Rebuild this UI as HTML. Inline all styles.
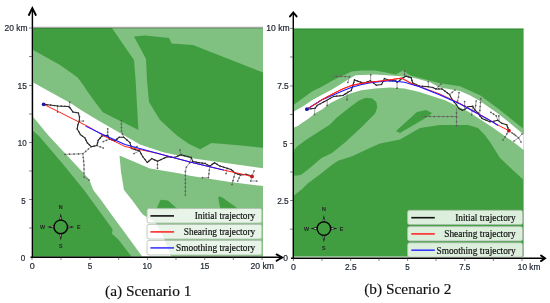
<!DOCTYPE html>
<html><head><meta charset="utf-8"><style>
html,body{margin:0;padding:0;background:#fff;}
svg{display:block;}
</style></head><body>
<svg width="550" height="303" viewBox="0 0 550 303">
<rect width="550" height="303" fill="#fff"/>
<rect x="33.2" y="27.9" width="229.8" height="228.7" fill="#80C080"/>
<polygon points="33.2,27.9 112,27.9 121.5,42 134,60 135.6,80 138.4,130 129.6,125.6 114.7,118.2 102.8,112.3 93.9,100.4 86.5,90 83.8,85.7 77.8,77.8 70,71.9 60,65 33.2,50" fill="#409E40"/>
<polygon points="134,36.6 145,35.4 169,38 171.6,43.4 193,45 263,72.6 263,147.8 235.6,145 211.5,143.1 200.2,149.2 189,144 176.9,135.4 170,129.3 160,120 149,102 147,80 146,59" fill="#409E40"/>
<polygon points="33.2,131 39,136 62,163 84,190 112.6,229.3 112,233.8 118.6,239.7 131.5,256.6 33.2,256.6" fill="#409E40"/>
<polygon points="156,210 160.3,200.2 162,199.8 168,200.6 178.5,210" fill="#409E40"/>
<polygon points="218.2,197.2 219.5,196.6 222,197.3 240,210 220.5,210" fill="#409E40"/>
<polygon points="33.2,82.4 72,103.9 80,109.5 90,115.6 100,121.5 120,133 140,144.5 163.2,152.3 190,158 263,168.2 263,186 230,182 190,175.7 180,173.5 150,168.5 119.5,155.4 121,172 124,190 132,200 138.3,208.6 140.7,212 143.5,215 150,219 155.9,222.7 164.2,238.4 171,256.6 142.3,256.6 124.5,232.3 111.8,215 101,200 93.3,190 89,179 48,135 33.2,117" fill="#fff"/>
<line x1="33.2" y1="27.3" x2="263.0" y2="27.3" stroke="#8a8a8a" stroke-width="0.9"/>
<line x1="33.2" y1="28.3" x2="263.0" y2="28.3" stroke="#000" stroke-opacity="0.18" stroke-width="0.9"/>
<rect x="293.8" y="28.4" width="229.8" height="228.2" fill="#409E40"/>
<line x1="293.8" y1="29.4" x2="523.6" y2="29.4" stroke="#000" stroke-opacity="0.1" stroke-width="1"/>
<polygon points="293.8,104.7 303.2,98 312,91.5 322,86.4 333,80.3 346.4,73.9 351.7,71.4 361,70.6 375,70.6 382.3,71.8 395.6,74.6 403,70.6 410.5,75.4 440,83.2 460,86.2 480,95.3 498,108.5 523.6,129 523.6,180 500,158 490,142 484,134 478,128 468,125 440,125 420,128 400,139.4 380,143.5 372,147 352.1,156.2 338.2,160.8 332,164.8 321.2,173.4 308,183.3 301,190 293.8,195.5" fill="#80C080"/>
<polygon points="293.8,150.5 297,146.5 306.5,139.6 323,129 330,124.4 336.6,117.8 349.8,107.2 359,100.6 365.7,97.7 372.3,98.6 376.3,101.9 377.3,107.2 375,113.8 369.6,119 361.7,127 352,136 345.2,142.3 332,152.9 321.2,158.2 308,169.4 301.2,174.7 297,175.5 293.8,175.5" fill="#409E40"/>
<polygon points="396,131 417,112 426,110 432,113 429,116 400,133" fill="#409E40"/>
<polygon points="293.8,111.5 303.2,106.2 312,100.3 322,94.8 332,89.4 341,84 350,78.3 355.6,75.2 375,74.6 389.7,75.6 410.5,77 430,82.3 440,87.5 460,91 469.8,95.3 480,101 500,115 523.6,134.5 523.6,150 514.4,142.8 491.2,126.5 468.1,111.4 445,100.3 419.4,92 404.5,88.4 389.7,87.6 375,88.4 361.2,90.2 350,93.4 340,98.3 330,103.3 322,109.5 316,112.8 308,119 301.9,122.9 297.8,126 293.8,127.5" fill="#fff"/>
<polyline points="57.6,105.9 57.6,111.9" fill="none" stroke="#6a6a6a" stroke-width="0.65" stroke-linejoin="round" stroke-linecap="round" />
<circle cx="57.6" cy="111.9" r="0.85" fill="#5a5a5a"/>
<polyline points="69.5,106.5 69.9,102" fill="none" stroke="#6a6a6a" stroke-width="0.65" stroke-linejoin="round" stroke-linecap="round" />
<circle cx="69.9" cy="102.0" r="0.85" fill="#5a5a5a"/>
<polyline points="79.2,121.2 83.3,121" fill="none" stroke="#6a6a6a" stroke-width="0.65" stroke-linejoin="round" stroke-linecap="round" />
<circle cx="83.3" cy="121.0" r="0.85" fill="#5a5a5a"/>
<polyline points="91.2,146.7 82.9,153.7 65.1,154.4" fill="none" stroke="#6a6a6a" stroke-width="0.65" stroke-linejoin="round" stroke-linecap="round" />
<circle cx="88.4" cy="149.0" r="0.85" fill="#5a5a5a"/>
<circle cx="85.7" cy="151.4" r="0.85" fill="#5a5a5a"/>
<circle cx="82.9" cy="153.7" r="0.85" fill="#5a5a5a"/>
<circle cx="78.5" cy="153.9" r="0.85" fill="#5a5a5a"/>
<circle cx="74.0" cy="154.1" r="0.85" fill="#5a5a5a"/>
<circle cx="69.5" cy="154.2" r="0.85" fill="#5a5a5a"/>
<circle cx="65.1" cy="154.4" r="0.85" fill="#5a5a5a"/>
<polyline points="82.9,153.7 84,165 84,177 89,180" fill="none" stroke="#6a6a6a" stroke-width="0.65" stroke-linejoin="round" stroke-linecap="round" />
<circle cx="83.3" cy="157.5" r="0.85" fill="#5a5a5a"/>
<circle cx="83.6" cy="161.2" r="0.85" fill="#5a5a5a"/>
<circle cx="84.0" cy="165.0" r="0.85" fill="#5a5a5a"/>
<circle cx="84.0" cy="169.0" r="0.85" fill="#5a5a5a"/>
<circle cx="84.0" cy="173.0" r="0.85" fill="#5a5a5a"/>
<circle cx="84.0" cy="177.0" r="0.85" fill="#5a5a5a"/>
<circle cx="89.0" cy="180.0" r="0.85" fill="#5a5a5a"/>
<polyline points="96.9,145.5 103.3,148" fill="none" stroke="#6a6a6a" stroke-width="0.65" stroke-linejoin="round" stroke-linecap="round" />
<circle cx="100.1" cy="146.8" r="0.85" fill="#5a5a5a"/>
<circle cx="103.3" cy="148.0" r="0.85" fill="#5a5a5a"/>
<polyline points="107.7,135.3 107.7,128.9" fill="none" stroke="#6a6a6a" stroke-width="0.65" stroke-linejoin="round" stroke-linecap="round" />
<circle cx="107.7" cy="132.1" r="0.85" fill="#5a5a5a"/>
<circle cx="107.7" cy="128.9" r="0.85" fill="#5a5a5a"/>
<polyline points="109.6,139.1 103.3,141.6" fill="none" stroke="#6a6a6a" stroke-width="0.65" stroke-linejoin="round" stroke-linecap="round" />
<circle cx="106.4" cy="140.3" r="0.85" fill="#5a5a5a"/>
<circle cx="103.3" cy="141.6" r="0.85" fill="#5a5a5a"/>
<polyline points="139.6,151 134,153.5" fill="none" stroke="#6a6a6a" stroke-width="0.65" stroke-linejoin="round" stroke-linecap="round" />
<circle cx="134.0" cy="153.5" r="0.85" fill="#5a5a5a"/>
<polyline points="123.6,137.2 121.5,131 121.4,120.5" fill="none" stroke="#6a6a6a" stroke-width="0.65" stroke-linejoin="round" stroke-linecap="round" />
<circle cx="122.5" cy="134.1" r="0.85" fill="#5a5a5a"/>
<circle cx="121.5" cy="131.0" r="0.85" fill="#5a5a5a"/>
<circle cx="121.5" cy="127.5" r="0.85" fill="#5a5a5a"/>
<circle cx="121.4" cy="124.0" r="0.85" fill="#5a5a5a"/>
<circle cx="121.4" cy="120.5" r="0.85" fill="#5a5a5a"/>
<polyline points="131.4,148.5 137,146.5" fill="none" stroke="#6a6a6a" stroke-width="0.65" stroke-linejoin="round" stroke-linecap="round" />
<circle cx="137.0" cy="146.5" r="0.85" fill="#5a5a5a"/>
<polyline points="157.5,161.2 157.5,168.2" fill="none" stroke="#6a6a6a" stroke-width="0.65" stroke-linejoin="round" stroke-linecap="round" />
<circle cx="157.5" cy="164.7" r="0.85" fill="#5a5a5a"/>
<circle cx="157.5" cy="168.2" r="0.85" fill="#5a5a5a"/>
<polyline points="181,154.8 180,150" fill="none" stroke="#6a6a6a" stroke-width="0.65" stroke-linejoin="round" stroke-linecap="round" />
<circle cx="180.0" cy="150.0" r="0.85" fill="#5a5a5a"/>
<polyline points="191.2,157.4 189.6,162.9 186.4,167.1 185.4,171.4 185.4,195" fill="none" stroke="#6a6a6a" stroke-width="0.65" stroke-linejoin="round" stroke-linecap="round" />
<circle cx="189.6" cy="162.9" r="0.85" fill="#5a5a5a"/>
<circle cx="186.4" cy="167.1" r="0.85" fill="#5a5a5a"/>
<circle cx="185.4" cy="171.4" r="0.85" fill="#5a5a5a"/>
<circle cx="185.4" cy="175.3" r="0.85" fill="#5a5a5a"/>
<circle cx="185.4" cy="179.3" r="0.85" fill="#5a5a5a"/>
<circle cx="185.4" cy="183.2" r="0.85" fill="#5a5a5a"/>
<circle cx="185.4" cy="187.1" r="0.85" fill="#5a5a5a"/>
<circle cx="185.4" cy="191.1" r="0.85" fill="#5a5a5a"/>
<circle cx="185.4" cy="195.0" r="0.85" fill="#5a5a5a"/>
<polyline points="209.8,166.1 208.4,177.7 202.3,177.7" fill="none" stroke="#6a6a6a" stroke-width="0.65" stroke-linejoin="round" stroke-linecap="round" />
<circle cx="209.3" cy="170.0" r="0.85" fill="#5a5a5a"/>
<circle cx="208.9" cy="173.8" r="0.85" fill="#5a5a5a"/>
<circle cx="208.4" cy="177.7" r="0.85" fill="#5a5a5a"/>
<circle cx="202.3" cy="177.7" r="0.85" fill="#5a5a5a"/>
<polyline points="226.8,169.5 226,173.6" fill="none" stroke="#6a6a6a" stroke-width="0.65" stroke-linejoin="round" stroke-linecap="round" />
<circle cx="226.0" cy="173.6" r="0.85" fill="#5a5a5a"/>
<polyline points="235,173 232,184.5" fill="none" stroke="#6a6a6a" stroke-width="0.65" stroke-linejoin="round" stroke-linecap="round" />
<circle cx="234.0" cy="176.8" r="0.85" fill="#5a5a5a"/>
<circle cx="233.0" cy="180.7" r="0.85" fill="#5a5a5a"/>
<circle cx="232.0" cy="184.5" r="0.85" fill="#5a5a5a"/>
<polyline points="240.5,175 237.7,181" fill="none" stroke="#6a6a6a" stroke-width="0.65" stroke-linejoin="round" stroke-linecap="round" />
<circle cx="239.1" cy="178.0" r="0.85" fill="#5a5a5a"/>
<circle cx="237.7" cy="181.0" r="0.85" fill="#5a5a5a"/>
<polyline points="252,176.4 254,171" fill="none" stroke="#6a6a6a" stroke-width="0.65" stroke-linejoin="round" stroke-linecap="round" />
<circle cx="254.0" cy="171.0" r="0.85" fill="#5a5a5a"/>
<polyline points="252,176.4 250.7,181 256.8,181" fill="none" stroke="#6a6a6a" stroke-width="0.65" stroke-linejoin="round" stroke-linecap="round" />
<circle cx="250.7" cy="181.0" r="0.85" fill="#5a5a5a"/>
<circle cx="256.8" cy="181.0" r="0.85" fill="#5a5a5a"/>
<polyline points="43.7,104.3 57.6,105.9 68.5,106.5 70.2,108.1 72.9,111.9 78.4,113 79.5,116.8 79.2,121.2 77.8,125 77.2,128.9 80.4,134.6 84.8,137.8 87.4,142.9 91.2,146.7 96.9,145.5 98.2,140.4 102,135.9 107.7,135.3 109.6,139.1 114.7,141 119.2,137.2 123.6,137.2 130,142.7 131.4,148.5 139.6,151 142.8,156.7 147.3,162.5 151.7,158.6 157.5,161.2 164.5,158 167,156.7 174.6,157.4 181,154.8 191.2,157.4 192.7,161.4 199.5,162.7 205,163.4 209.8,166.1 214.5,162.7 220,166.1 231,169.5 235,173 240.5,175 246,174.3 252,176.4" fill="none" stroke="#1e1e1e" stroke-width="1.05" stroke-linejoin="round" stroke-linecap="round" />
<circle cx="47.2" cy="104.7" r="0.8" fill="#333"/>
<circle cx="50.7" cy="105.1" r="0.8" fill="#333"/>
<circle cx="54.1" cy="105.5" r="0.8" fill="#333"/>
<circle cx="57.6" cy="105.9" r="0.8" fill="#333"/>
<circle cx="61.2" cy="106.1" r="0.8" fill="#333"/>
<circle cx="64.9" cy="106.3" r="0.8" fill="#333"/>
<circle cx="68.5" cy="106.5" r="0.8" fill="#333"/>
<circle cx="70.2" cy="108.1" r="0.8" fill="#333"/>
<circle cx="72.9" cy="111.9" r="0.8" fill="#333"/>
<circle cx="75.7" cy="112.5" r="0.8" fill="#333"/>
<circle cx="78.4" cy="113.0" r="0.8" fill="#333"/>
<circle cx="79.5" cy="116.8" r="0.8" fill="#333"/>
<circle cx="79.2" cy="121.2" r="0.8" fill="#333"/>
<circle cx="77.8" cy="125.0" r="0.8" fill="#333"/>
<circle cx="77.2" cy="128.9" r="0.8" fill="#333"/>
<circle cx="78.8" cy="131.8" r="0.8" fill="#333"/>
<circle cx="80.4" cy="134.6" r="0.8" fill="#333"/>
<circle cx="82.6" cy="136.2" r="0.8" fill="#333"/>
<circle cx="84.8" cy="137.8" r="0.8" fill="#333"/>
<circle cx="86.1" cy="140.4" r="0.8" fill="#333"/>
<circle cx="87.4" cy="142.9" r="0.8" fill="#333"/>
<circle cx="89.3" cy="144.8" r="0.8" fill="#333"/>
<circle cx="91.2" cy="146.7" r="0.8" fill="#333"/>
<circle cx="94.1" cy="146.1" r="0.8" fill="#333"/>
<circle cx="96.9" cy="145.5" r="0.8" fill="#333"/>
<circle cx="97.6" cy="142.9" r="0.8" fill="#333"/>
<circle cx="98.2" cy="140.4" r="0.8" fill="#333"/>
<circle cx="100.1" cy="138.2" r="0.8" fill="#333"/>
<circle cx="102.0" cy="135.9" r="0.8" fill="#333"/>
<circle cx="104.8" cy="135.6" r="0.8" fill="#333"/>
<circle cx="107.7" cy="135.3" r="0.8" fill="#333"/>
<circle cx="109.6" cy="139.1" r="0.8" fill="#333"/>
<circle cx="112.2" cy="140.1" r="0.8" fill="#333"/>
<circle cx="114.7" cy="141.0" r="0.8" fill="#333"/>
<circle cx="117.0" cy="139.1" r="0.8" fill="#333"/>
<circle cx="119.2" cy="137.2" r="0.8" fill="#333"/>
<circle cx="123.6" cy="137.2" r="0.8" fill="#333"/>
<circle cx="126.8" cy="139.9" r="0.8" fill="#333"/>
<circle cx="130.0" cy="142.7" r="0.8" fill="#333"/>
<circle cx="130.7" cy="145.6" r="0.8" fill="#333"/>
<circle cx="131.4" cy="148.5" r="0.8" fill="#333"/>
<circle cx="135.5" cy="149.8" r="0.8" fill="#333"/>
<circle cx="139.6" cy="151.0" r="0.8" fill="#333"/>
<circle cx="141.2" cy="153.8" r="0.8" fill="#333"/>
<circle cx="142.8" cy="156.7" r="0.8" fill="#333"/>
<circle cx="145.1" cy="159.6" r="0.8" fill="#333"/>
<circle cx="147.3" cy="162.5" r="0.8" fill="#333"/>
<circle cx="149.5" cy="160.6" r="0.8" fill="#333"/>
<circle cx="151.7" cy="158.6" r="0.8" fill="#333"/>
<circle cx="154.6" cy="159.9" r="0.8" fill="#333"/>
<circle cx="157.5" cy="161.2" r="0.8" fill="#333"/>
<circle cx="161.0" cy="159.6" r="0.8" fill="#333"/>
<circle cx="164.5" cy="158.0" r="0.8" fill="#333"/>
<circle cx="167.0" cy="156.7" r="0.8" fill="#333"/>
<circle cx="170.8" cy="157.1" r="0.8" fill="#333"/>
<circle cx="174.6" cy="157.4" r="0.8" fill="#333"/>
<circle cx="177.8" cy="156.1" r="0.8" fill="#333"/>
<circle cx="181.0" cy="154.8" r="0.8" fill="#333"/>
<circle cx="184.4" cy="155.7" r="0.8" fill="#333"/>
<circle cx="187.8" cy="156.5" r="0.8" fill="#333"/>
<circle cx="191.2" cy="157.4" r="0.8" fill="#333"/>
<circle cx="192.7" cy="161.4" r="0.8" fill="#333"/>
<circle cx="196.1" cy="162.1" r="0.8" fill="#333"/>
<circle cx="199.5" cy="162.7" r="0.8" fill="#333"/>
<circle cx="202.2" cy="163.1" r="0.8" fill="#333"/>
<circle cx="205.0" cy="163.4" r="0.8" fill="#333"/>
<circle cx="207.4" cy="164.8" r="0.8" fill="#333"/>
<circle cx="209.8" cy="166.1" r="0.8" fill="#333"/>
<circle cx="212.2" cy="164.4" r="0.8" fill="#333"/>
<circle cx="214.5" cy="162.7" r="0.8" fill="#333"/>
<circle cx="217.2" cy="164.4" r="0.8" fill="#333"/>
<circle cx="220.0" cy="166.1" r="0.8" fill="#333"/>
<circle cx="223.7" cy="167.2" r="0.8" fill="#333"/>
<circle cx="227.3" cy="168.4" r="0.8" fill="#333"/>
<circle cx="231.0" cy="169.5" r="0.8" fill="#333"/>
<circle cx="233.0" cy="171.2" r="0.8" fill="#333"/>
<circle cx="235.0" cy="173.0" r="0.8" fill="#333"/>
<circle cx="237.8" cy="174.0" r="0.8" fill="#333"/>
<circle cx="240.5" cy="175.0" r="0.8" fill="#333"/>
<circle cx="243.2" cy="174.7" r="0.8" fill="#333"/>
<circle cx="246.0" cy="174.3" r="0.8" fill="#333"/>
<circle cx="249.0" cy="175.4" r="0.8" fill="#333"/>
<circle cx="252.0" cy="176.4" r="0.8" fill="#333"/>
<polyline points="43.7,104.3 89.3,127.2 105,136.5 125,146.5 150.5,151.8 160,154 190,162 223.4,170 252,176.4" fill="none" stroke="#ff2020" stroke-width="1.0" stroke-linejoin="round" stroke-linecap="round" />
<polyline points="86.1,126.4 105,135.5 125,144.6 160,154 190,162 223.4,170" fill="none" stroke="#1515ff" stroke-width="1.05" stroke-linejoin="round" stroke-linecap="round" />
<circle cx="43.7" cy="104.3" r="1.9" fill="#1a1aa0"/>
<circle cx="252" cy="176.4" r="1.9" fill="#c01818"/>
<polyline points="332.2,76.2 349.5,76.6 347.9,82.3" fill="none" stroke="#6a6a6a" stroke-width="0.65" stroke-linejoin="round" stroke-linecap="round" />
<circle cx="336.5" cy="76.3" r="0.85" fill="#5a5a5a"/>
<circle cx="340.9" cy="76.4" r="0.85" fill="#5a5a5a"/>
<circle cx="345.2" cy="76.5" r="0.85" fill="#5a5a5a"/>
<circle cx="349.5" cy="76.6" r="0.85" fill="#5a5a5a"/>
<circle cx="347.9" cy="82.3" r="0.85" fill="#5a5a5a"/>
<polyline points="314.9,108.3 314.5,114.5" fill="none" stroke="#6a6a6a" stroke-width="0.65" stroke-linejoin="round" stroke-linecap="round" />
<circle cx="314.5" cy="114.5" r="0.85" fill="#5a5a5a"/>
<polyline points="327.2,100.5 327.2,105.4" fill="none" stroke="#6a6a6a" stroke-width="0.65" stroke-linejoin="round" stroke-linecap="round" />
<circle cx="327.2" cy="105.4" r="0.85" fill="#5a5a5a"/>
<polyline points="347,93.5 347,99.7" fill="none" stroke="#6a6a6a" stroke-width="0.65" stroke-linejoin="round" stroke-linecap="round" />
<circle cx="347.0" cy="99.7" r="0.85" fill="#5a5a5a"/>
<polyline points="370.7,80.8 370.7,74.8" fill="none" stroke="#6a6a6a" stroke-width="0.65" stroke-linejoin="round" stroke-linecap="round" />
<circle cx="370.7" cy="74.8" r="0.85" fill="#5a5a5a"/>
<polyline points="397.1,82.3 397.1,88.2" fill="none" stroke="#6a6a6a" stroke-width="0.65" stroke-linejoin="round" stroke-linecap="round" />
<circle cx="397.1" cy="88.2" r="0.85" fill="#5a5a5a"/>
<polyline points="404.5,77.5 404.5,71.1" fill="none" stroke="#6a6a6a" stroke-width="0.65" stroke-linejoin="round" stroke-linecap="round" />
<circle cx="404.5" cy="74.3" r="0.85" fill="#5a5a5a"/>
<circle cx="404.5" cy="71.1" r="0.85" fill="#5a5a5a"/>
<polyline points="428.3,86.7 428.3,81.5" fill="none" stroke="#6a6a6a" stroke-width="0.65" stroke-linejoin="round" stroke-linecap="round" />
<circle cx="428.3" cy="81.5" r="0.85" fill="#5a5a5a"/>
<polyline points="436,88.9 441,84" fill="none" stroke="#6a6a6a" stroke-width="0.65" stroke-linejoin="round" stroke-linecap="round" />
<circle cx="438.5" cy="86.5" r="0.85" fill="#5a5a5a"/>
<circle cx="441.0" cy="84.0" r="0.85" fill="#5a5a5a"/>
<polyline points="449.6,94.6 455,90" fill="none" stroke="#6a6a6a" stroke-width="0.65" stroke-linejoin="round" stroke-linecap="round" />
<circle cx="452.3" cy="92.3" r="0.85" fill="#5a5a5a"/>
<circle cx="455.0" cy="90.0" r="0.85" fill="#5a5a5a"/>
<polyline points="456.5,105 458.5,97 459,92.5" fill="none" stroke="#6a6a6a" stroke-width="0.65" stroke-linejoin="round" stroke-linecap="round" />
<circle cx="457.5" cy="101.0" r="0.85" fill="#5a5a5a"/>
<circle cx="458.5" cy="97.0" r="0.85" fill="#5a5a5a"/>
<circle cx="459.0" cy="92.5" r="0.85" fill="#5a5a5a"/>
<polyline points="464.6,109.6 464.6,101.5" fill="none" stroke="#6a6a6a" stroke-width="0.65" stroke-linejoin="round" stroke-linecap="round" />
<circle cx="464.6" cy="105.5" r="0.85" fill="#5a5a5a"/>
<circle cx="464.6" cy="101.5" r="0.85" fill="#5a5a5a"/>
<polyline points="472.7,106.2 471.6,114.8" fill="none" stroke="#6a6a6a" stroke-width="0.65" stroke-linejoin="round" stroke-linecap="round" />
<circle cx="472.1" cy="110.5" r="0.85" fill="#5a5a5a"/>
<circle cx="471.6" cy="114.8" r="0.85" fill="#5a5a5a"/>
<polyline points="475,110.2 476.2,101" fill="none" stroke="#6a6a6a" stroke-width="0.65" stroke-linejoin="round" stroke-linecap="round" />
<circle cx="475.6" cy="105.6" r="0.85" fill="#5a5a5a"/>
<circle cx="476.2" cy="101.0" r="0.85" fill="#5a5a5a"/>
<polyline points="479.6,114.2 480.8,98.7" fill="none" stroke="#6a6a6a" stroke-width="0.65" stroke-linejoin="round" stroke-linecap="round" />
<circle cx="479.9" cy="110.3" r="0.85" fill="#5a5a5a"/>
<circle cx="480.2" cy="106.5" r="0.85" fill="#5a5a5a"/>
<circle cx="480.5" cy="102.6" r="0.85" fill="#5a5a5a"/>
<circle cx="480.8" cy="98.7" r="0.85" fill="#5a5a5a"/>
<polyline points="421,116.5 456.5,116.5" fill="none" stroke="#6a6a6a" stroke-width="0.65" stroke-linejoin="round" stroke-linecap="round" />
<circle cx="425.4" cy="116.5" r="0.85" fill="#5a5a5a"/>
<circle cx="429.9" cy="116.5" r="0.85" fill="#5a5a5a"/>
<circle cx="434.3" cy="116.5" r="0.85" fill="#5a5a5a"/>
<circle cx="438.8" cy="116.5" r="0.85" fill="#5a5a5a"/>
<circle cx="443.2" cy="116.5" r="0.85" fill="#5a5a5a"/>
<circle cx="447.6" cy="116.5" r="0.85" fill="#5a5a5a"/>
<circle cx="452.1" cy="116.5" r="0.85" fill="#5a5a5a"/>
<circle cx="456.5" cy="116.5" r="0.85" fill="#5a5a5a"/>
<polyline points="456.5,108.5 456.5,126" fill="none" stroke="#6a6a6a" stroke-width="0.65" stroke-linejoin="round" stroke-linecap="round" />
<circle cx="456.5" cy="112.9" r="0.85" fill="#5a5a5a"/>
<circle cx="456.5" cy="117.2" r="0.85" fill="#5a5a5a"/>
<circle cx="456.5" cy="121.6" r="0.85" fill="#5a5a5a"/>
<circle cx="456.5" cy="126.0" r="0.85" fill="#5a5a5a"/>
<polyline points="497.8,120.3 496.3,115.9 490.9,112.4" fill="none" stroke="#6a6a6a" stroke-width="0.65" stroke-linejoin="round" stroke-linecap="round" />
<circle cx="496.3" cy="115.9" r="0.85" fill="#5a5a5a"/>
<circle cx="493.6" cy="114.2" r="0.85" fill="#5a5a5a"/>
<circle cx="490.9" cy="112.4" r="0.85" fill="#5a5a5a"/>
<polyline points="499.3,121.5 498.8,115.9" fill="none" stroke="#6a6a6a" stroke-width="0.65" stroke-linejoin="round" stroke-linecap="round" />
<circle cx="498.8" cy="115.9" r="0.85" fill="#5a5a5a"/>
<polyline points="508.9,130.7 503,140" fill="none" stroke="#6a6a6a" stroke-width="0.65" stroke-linejoin="round" stroke-linecap="round" />
<circle cx="506.9" cy="133.8" r="0.85" fill="#5a5a5a"/>
<circle cx="505.0" cy="136.9" r="0.85" fill="#5a5a5a"/>
<circle cx="503.0" cy="140.0" r="0.85" fill="#5a5a5a"/>
<polyline points="518.6,137.8 514,134" fill="none" stroke="#6a6a6a" stroke-width="0.65" stroke-linejoin="round" stroke-linecap="round" />
<circle cx="514.0" cy="134.0" r="0.85" fill="#5a5a5a"/>
<polyline points="518.6,137.8 522,134" fill="none" stroke="#6a6a6a" stroke-width="0.65" stroke-linejoin="round" stroke-linecap="round" />
<circle cx="522.0" cy="134.0" r="0.85" fill="#5a5a5a"/>
<polyline points="518.6,137.8 514,141" fill="none" stroke="#6a6a6a" stroke-width="0.65" stroke-linejoin="round" stroke-linecap="round" />
<circle cx="514.0" cy="141.0" r="0.85" fill="#5a5a5a"/>
<polyline points="518.6,137.8 521,142" fill="none" stroke="#6a6a6a" stroke-width="0.65" stroke-linejoin="round" stroke-linecap="round" />
<circle cx="521.0" cy="142.0" r="0.85" fill="#5a5a5a"/>
<polyline points="509,130.7 518.6,137.8" fill="none" stroke="#6a6a6a" stroke-width="0.65" stroke-linejoin="round" stroke-linecap="round" />
<circle cx="512.2" cy="133.1" r="0.85" fill="#5a5a5a"/>
<circle cx="515.4" cy="135.4" r="0.85" fill="#5a5a5a"/>
<circle cx="518.6" cy="137.8" r="0.85" fill="#5a5a5a"/>
<polyline points="306.9,109.2 314.9,108.3 317.3,105.4 326.4,100.5 333.8,96.4 342.9,95.5 347.9,92.2 351.2,90.6 353,85 354.5,79.9 363.6,83.2 370.4,80.8 376.3,85.2 381.5,84.5 384.5,78.5 389.7,80.8 395.6,80.8 397.1,82.3 403,77.8 406,76.3 411.2,77.8 412.7,83 419.4,86 428.3,86.7 432.7,87.5 436,88.9 441.9,88.9 445,91.2 449.6,94.6 451.9,99.2 456.5,105 458.9,108.5 462.3,110.2 464.6,109.6 468.1,106.7 472.7,106.2 475,110.2 478,112.9 480,115.9 482,118.4 489.9,121.8 493.8,121.3 497.8,120.3 501.8,123.3 506.7,124.8 508.9,130.7" fill="none" stroke="#1e1e1e" stroke-width="1.05" stroke-linejoin="round" stroke-linecap="round" />
<circle cx="310.9" cy="108.8" r="0.8" fill="#333"/>
<circle cx="314.9" cy="108.3" r="0.8" fill="#333"/>
<circle cx="317.3" cy="105.4" r="0.8" fill="#333"/>
<circle cx="320.3" cy="103.8" r="0.8" fill="#333"/>
<circle cx="323.4" cy="102.1" r="0.8" fill="#333"/>
<circle cx="326.4" cy="100.5" r="0.8" fill="#333"/>
<circle cx="330.1" cy="98.5" r="0.8" fill="#333"/>
<circle cx="333.8" cy="96.4" r="0.8" fill="#333"/>
<circle cx="336.8" cy="96.1" r="0.8" fill="#333"/>
<circle cx="339.9" cy="95.8" r="0.8" fill="#333"/>
<circle cx="342.9" cy="95.5" r="0.8" fill="#333"/>
<circle cx="345.4" cy="93.8" r="0.8" fill="#333"/>
<circle cx="347.9" cy="92.2" r="0.8" fill="#333"/>
<circle cx="351.2" cy="90.6" r="0.8" fill="#333"/>
<circle cx="352.1" cy="87.8" r="0.8" fill="#333"/>
<circle cx="353.0" cy="85.0" r="0.8" fill="#333"/>
<circle cx="353.8" cy="82.5" r="0.8" fill="#333"/>
<circle cx="354.5" cy="79.9" r="0.8" fill="#333"/>
<circle cx="357.5" cy="81.0" r="0.8" fill="#333"/>
<circle cx="360.6" cy="82.1" r="0.8" fill="#333"/>
<circle cx="363.6" cy="83.2" r="0.8" fill="#333"/>
<circle cx="367.0" cy="82.0" r="0.8" fill="#333"/>
<circle cx="370.4" cy="80.8" r="0.8" fill="#333"/>
<circle cx="373.4" cy="83.0" r="0.8" fill="#333"/>
<circle cx="376.3" cy="85.2" r="0.8" fill="#333"/>
<circle cx="381.5" cy="84.5" r="0.8" fill="#333"/>
<circle cx="383.0" cy="81.5" r="0.8" fill="#333"/>
<circle cx="384.5" cy="78.5" r="0.8" fill="#333"/>
<circle cx="387.1" cy="79.7" r="0.8" fill="#333"/>
<circle cx="389.7" cy="80.8" r="0.8" fill="#333"/>
<circle cx="392.6" cy="80.8" r="0.8" fill="#333"/>
<circle cx="395.6" cy="80.8" r="0.8" fill="#333"/>
<circle cx="397.1" cy="82.3" r="0.8" fill="#333"/>
<circle cx="400.1" cy="80.0" r="0.8" fill="#333"/>
<circle cx="403.0" cy="77.8" r="0.8" fill="#333"/>
<circle cx="406.0" cy="76.3" r="0.8" fill="#333"/>
<circle cx="408.6" cy="77.0" r="0.8" fill="#333"/>
<circle cx="411.2" cy="77.8" r="0.8" fill="#333"/>
<circle cx="411.9" cy="80.4" r="0.8" fill="#333"/>
<circle cx="412.7" cy="83.0" r="0.8" fill="#333"/>
<circle cx="416.0" cy="84.5" r="0.8" fill="#333"/>
<circle cx="419.4" cy="86.0" r="0.8" fill="#333"/>
<circle cx="422.4" cy="86.2" r="0.8" fill="#333"/>
<circle cx="425.3" cy="86.5" r="0.8" fill="#333"/>
<circle cx="428.3" cy="86.7" r="0.8" fill="#333"/>
<circle cx="432.7" cy="87.5" r="0.8" fill="#333"/>
<circle cx="436.0" cy="88.9" r="0.8" fill="#333"/>
<circle cx="438.9" cy="88.9" r="0.8" fill="#333"/>
<circle cx="441.9" cy="88.9" r="0.8" fill="#333"/>
<circle cx="445.0" cy="91.2" r="0.8" fill="#333"/>
<circle cx="447.3" cy="92.9" r="0.8" fill="#333"/>
<circle cx="449.6" cy="94.6" r="0.8" fill="#333"/>
<circle cx="451.9" cy="99.2" r="0.8" fill="#333"/>
<circle cx="454.2" cy="102.1" r="0.8" fill="#333"/>
<circle cx="456.5" cy="105.0" r="0.8" fill="#333"/>
<circle cx="458.9" cy="108.5" r="0.8" fill="#333"/>
<circle cx="462.3" cy="110.2" r="0.8" fill="#333"/>
<circle cx="464.6" cy="109.6" r="0.8" fill="#333"/>
<circle cx="468.1" cy="106.7" r="0.8" fill="#333"/>
<circle cx="472.7" cy="106.2" r="0.8" fill="#333"/>
<circle cx="475.0" cy="110.2" r="0.8" fill="#333"/>
<circle cx="478.0" cy="112.9" r="0.8" fill="#333"/>
<circle cx="480.0" cy="115.9" r="0.8" fill="#333"/>
<circle cx="482.0" cy="118.4" r="0.8" fill="#333"/>
<circle cx="485.9" cy="120.1" r="0.8" fill="#333"/>
<circle cx="489.9" cy="121.8" r="0.8" fill="#333"/>
<circle cx="493.8" cy="121.3" r="0.8" fill="#333"/>
<circle cx="497.8" cy="120.3" r="0.8" fill="#333"/>
<circle cx="501.8" cy="123.3" r="0.8" fill="#333"/>
<circle cx="506.7" cy="124.8" r="0.8" fill="#333"/>
<circle cx="507.8" cy="127.8" r="0.8" fill="#333"/>
<circle cx="508.9" cy="130.7" r="0.8" fill="#333"/>
<polyline points="306.9,109.2 322,99.7 331.9,94.3 341.8,89.3 351.7,85.4 361.6,83.4 372,81.9 383.7,80.8 401.5,78.1 411.9,83.7 422.3,87.5 440,94.1 459.7,103.3 474.6,111.6 489.4,119.8 497.8,125 508.9,130.7" fill="none" stroke="#ff2020" stroke-width="1.0" stroke-linejoin="round" stroke-linecap="round" />
<polyline points="306.9,109.2 322,99.7 329.9,96.6 341.8,91.3 351.7,87.3 361.6,84.4 372,82.4 389.7,80.8 404.5,82.3 419.4,86.7 440,94.9 459.7,103.8 474.6,112 489.4,120.1 497.8,125.2" fill="none" stroke="#1515ff" stroke-width="1.05" stroke-linejoin="round" stroke-linecap="round" />
<polyline points="306.9,109.2 322,99.7 331.9,94.3 341.8,89.3 351.7,85.4 361.6,83.4 372,81.9 383.7,80.8 401.5,78.1 411.9,83.7" fill="none" stroke="#ff2020" stroke-width="1.0" stroke-linejoin="round" stroke-linecap="round" />
<circle cx="306.9" cy="109.2" r="1.9" fill="#1a1aa0"/>
<circle cx="508.9" cy="130.7" r="1.9" fill="#c01818"/>
<rect x="147" y="208.4" width="114.8" height="14.6" rx="2" ry="2" fill="#fff" fill-opacity="0.82" stroke="#aebfae" stroke-width="0.8"/>
<line x1="150.4" y1="215.9" x2="174" y2="215.9" stroke="#111" stroke-width="1.6"/>
<text x="255.2" y="219.3" text-anchor="end" font-family="Liberation Serif, serif" font-size="9.35" fill="#111" stroke="#111" stroke-width="0.18">Initial trajectory</text>
<rect x="147" y="224.4" width="114.8" height="14.6" rx="2" ry="2" fill="#fff" fill-opacity="0.82" stroke="#aebfae" stroke-width="0.8"/>
<line x1="150.4" y1="231.9" x2="174" y2="231.9" stroke="#ff2a2a" stroke-width="1.6"/>
<text x="255.2" y="235.3" text-anchor="end" font-family="Liberation Serif, serif" font-size="9.35" fill="#111" stroke="#111" stroke-width="0.18">Shearing trajectory</text>
<rect x="147" y="240.4" width="114.8" height="14.6" rx="2" ry="2" fill="#fff" fill-opacity="0.82" stroke="#aebfae" stroke-width="0.8"/>
<line x1="150.4" y1="247.9" x2="174" y2="247.9" stroke="#3a3aff" stroke-width="1.6"/>
<text x="255.2" y="251.3" text-anchor="end" font-family="Liberation Serif, serif" font-size="9.35" fill="#111" stroke="#111" stroke-width="0.18">Smoothing trajectory</text>
<rect x="407.6" y="210.3" width="114.9" height="14.3" rx="2" ry="2" fill="#fff" fill-opacity="0.82" stroke="#aebfae" stroke-width="0.8"/>
<line x1="411.3" y1="217.7" x2="434.8" y2="217.7" stroke="#111" stroke-width="1.6"/>
<text x="515.6" y="221.1" text-anchor="end" font-family="Liberation Serif, serif" font-size="9.35" fill="#111" stroke="#111" stroke-width="0.18">Initial trajectory</text>
<rect x="407.6" y="226.6" width="114.9" height="14.3" rx="2" ry="2" fill="#fff" fill-opacity="0.82" stroke="#aebfae" stroke-width="0.8"/>
<line x1="411.3" y1="233.9" x2="434.8" y2="233.9" stroke="#ff2a2a" stroke-width="1.6"/>
<text x="515.6" y="237.3" text-anchor="end" font-family="Liberation Serif, serif" font-size="9.35" fill="#111" stroke="#111" stroke-width="0.18">Shearing trajectory</text>
<rect x="407.6" y="242.8" width="114.9" height="14.3" rx="2" ry="2" fill="#fff" fill-opacity="0.82" stroke="#aebfae" stroke-width="0.8"/>
<line x1="411.3" y1="250.2" x2="434.8" y2="250.2" stroke="#3a3aff" stroke-width="1.6"/>
<text x="515.6" y="253.6" text-anchor="end" font-family="Liberation Serif, serif" font-size="9.35" fill="#111" stroke="#111" stroke-width="0.18">Smoothing trajectory</text>
<circle cx="60.75" cy="226.9" r="6.75" fill="none" stroke="#000" stroke-width="1.35"/>
<g transform="translate(60.75,226.9) rotate(0)"><polygon points="0,-13.65 -1.5,-6.95 1.5,-6.95" fill="#111"/><polygon points="0.1,-10.65 -0.55,-7.65 0.55,-7.65" fill="#e8dde8"/></g>
<g transform="translate(60.75,226.9) rotate(90)"><polygon points="0,-13.65 -1.5,-6.95 1.5,-6.95" fill="#111"/><polygon points="0.1,-10.65 -0.55,-7.65 0.55,-7.65" fill="#e8dde8"/></g>
<g transform="translate(60.75,226.9) rotate(180)"><polygon points="0,-13.65 -1.5,-6.95 1.5,-6.95" fill="#111"/><polygon points="0.1,-10.65 -0.55,-7.65 0.55,-7.65" fill="#e8dde8"/></g>
<g transform="translate(60.75,226.9) rotate(270)"><polygon points="0,-13.65 -1.5,-6.95 1.5,-6.95" fill="#111"/><polygon points="0.1,-10.65 -0.55,-7.65 0.55,-7.65" fill="#e8dde8"/></g>
<text x="60.75" y="209.20000000000002" text-anchor="middle" font-family="Liberation Sans, sans-serif" font-weight="bold" fill="#222" font-size="5.4">N</text>
<text x="60.75" y="248.4" text-anchor="middle" font-family="Liberation Sans, sans-serif" font-weight="bold" fill="#222" font-size="5.4">S</text>
<text x="42.55" y="228.8" text-anchor="middle" font-family="Liberation Sans, sans-serif" font-weight="bold" fill="#222" font-size="5.4">W</text>
<text x="78.75" y="228.8" text-anchor="middle" font-family="Liberation Sans, sans-serif" font-weight="bold" fill="#222" font-size="5.4">E</text>
<circle cx="323.9" cy="228.6" r="6.75" fill="none" stroke="#000" stroke-width="1.35"/>
<g transform="translate(323.9,228.6) rotate(0)"><polygon points="0,-13.65 -1.5,-6.95 1.5,-6.95" fill="#111"/><polygon points="0.1,-10.65 -0.55,-7.65 0.55,-7.65" fill="#e8dde8"/></g>
<g transform="translate(323.9,228.6) rotate(90)"><polygon points="0,-13.65 -1.5,-6.95 1.5,-6.95" fill="#111"/><polygon points="0.1,-10.65 -0.55,-7.65 0.55,-7.65" fill="#e8dde8"/></g>
<g transform="translate(323.9,228.6) rotate(180)"><polygon points="0,-13.65 -1.5,-6.95 1.5,-6.95" fill="#111"/><polygon points="0.1,-10.65 -0.55,-7.65 0.55,-7.65" fill="#e8dde8"/></g>
<g transform="translate(323.9,228.6) rotate(270)"><polygon points="0,-13.65 -1.5,-6.95 1.5,-6.95" fill="#111"/><polygon points="0.1,-10.65 -0.55,-7.65 0.55,-7.65" fill="#e8dde8"/></g>
<text x="323.9" y="211.0" text-anchor="middle" font-family="Liberation Sans, sans-serif" font-weight="bold" fill="#222" font-size="5.4">N</text>
<text x="323.9" y="250.0" text-anchor="middle" font-family="Liberation Sans, sans-serif" font-weight="bold" fill="#222" font-size="5.4">S</text>
<text x="306.59999999999997" y="230.5" text-anchor="middle" font-family="Liberation Sans, sans-serif" font-weight="bold" fill="#222" font-size="5.4">W</text>
<text x="341.59999999999997" y="230.5" text-anchor="middle" font-family="Liberation Sans, sans-serif" font-weight="bold" fill="#222" font-size="5.4">E</text>
<line x1="32.4" y1="258" x2="32.4" y2="8.5" stroke="#000" stroke-width="1.45"/>
<polyline points="28.9,15.0 32.35,8.1 35.8,15.0" fill="none" stroke="#000" stroke-width="1.9" stroke-linejoin="miter" stroke-linecap="round"/>
<line x1="30.5" y1="257.3" x2="282" y2="257.3" stroke="#000" stroke-width="1.6"/>
<polyline points="276.6,254.4 282.2,257.5 276.6,260.8" fill="none" stroke="#000" stroke-width="1.9" stroke-linecap="round"/>
<line x1="293.3" y1="258" x2="293.3" y2="13" stroke="#000" stroke-width="1.45"/>
<polyline points="290.0,16.4 293.3,12.4 296.6,16.4" fill="none" stroke="#000" stroke-width="1.9" stroke-linecap="round"/>
<line x1="291" y1="258.3" x2="544.5" y2="258.3" stroke="#000" stroke-width="1.6"/>
<polyline points="541.0,255.5 545.0,258.3 541.0,261.1" fill="none" stroke="#000" stroke-width="1.9" stroke-linecap="round"/>
<line x1="29" y1="28" x2="32" y2="28" stroke="#333" stroke-width="0.6"/>
<line x1="29" y1="56.5" x2="32" y2="56.5" stroke="#333" stroke-width="0.6"/>
<line x1="29" y1="85.5" x2="32" y2="85.5" stroke="#333" stroke-width="0.6"/>
<line x1="29" y1="114" x2="32" y2="114" stroke="#333" stroke-width="0.6"/>
<line x1="29" y1="142.5" x2="32" y2="142.5" stroke="#333" stroke-width="0.6"/>
<line x1="29" y1="171" x2="32" y2="171" stroke="#333" stroke-width="0.6"/>
<line x1="29" y1="199.5" x2="32" y2="199.5" stroke="#333" stroke-width="0.6"/>
<line x1="29" y1="228" x2="32" y2="228" stroke="#333" stroke-width="0.6"/>
<line x1="32" y1="257" x2="32" y2="260" stroke="#333" stroke-width="0.6"/>
<line x1="61" y1="257" x2="61" y2="260" stroke="#333" stroke-width="0.6"/>
<line x1="90" y1="257" x2="90" y2="260" stroke="#333" stroke-width="0.6"/>
<line x1="118.7" y1="257" x2="118.7" y2="260" stroke="#333" stroke-width="0.6"/>
<line x1="147.5" y1="257" x2="147.5" y2="260" stroke="#333" stroke-width="0.6"/>
<line x1="176" y1="257" x2="176" y2="260" stroke="#333" stroke-width="0.6"/>
<line x1="204.7" y1="257" x2="204.7" y2="260" stroke="#333" stroke-width="0.6"/>
<line x1="233.3" y1="257" x2="233.3" y2="260" stroke="#333" stroke-width="0.6"/>
<line x1="262" y1="257" x2="262" y2="260" stroke="#333" stroke-width="0.6"/>
<line x1="290" y1="28.4" x2="293" y2="28.4" stroke="#333" stroke-width="0.6"/>
<line x1="290" y1="57" x2="293" y2="57" stroke="#333" stroke-width="0.6"/>
<line x1="290" y1="86" x2="293" y2="86" stroke="#333" stroke-width="0.6"/>
<line x1="290" y1="114.5" x2="293" y2="114.5" stroke="#333" stroke-width="0.6"/>
<line x1="290" y1="143.5" x2="293" y2="143.5" stroke="#333" stroke-width="0.6"/>
<line x1="290" y1="172" x2="293" y2="172" stroke="#333" stroke-width="0.6"/>
<line x1="290" y1="200.5" x2="293" y2="200.5" stroke="#333" stroke-width="0.6"/>
<line x1="290" y1="229.2" x2="293" y2="229.2" stroke="#333" stroke-width="0.6"/>
<line x1="293.5" y1="258" x2="293.5" y2="261" stroke="#333" stroke-width="0.6"/>
<line x1="322" y1="258" x2="322" y2="261" stroke="#333" stroke-width="0.6"/>
<line x1="350.7" y1="258" x2="350.7" y2="261" stroke="#333" stroke-width="0.6"/>
<line x1="379" y1="258" x2="379" y2="261" stroke="#333" stroke-width="0.6"/>
<line x1="407.6" y1="258" x2="407.6" y2="261" stroke="#333" stroke-width="0.6"/>
<line x1="436" y1="258" x2="436" y2="261" stroke="#333" stroke-width="0.6"/>
<line x1="464.8" y1="258" x2="464.8" y2="261" stroke="#333" stroke-width="0.6"/>
<line x1="493.4" y1="258" x2="493.4" y2="261" stroke="#333" stroke-width="0.6"/>
<line x1="522" y1="258" x2="522" y2="261" stroke="#333" stroke-width="0.6"/>
<text x="4.55" y="30.7" textLength="23.10" lengthAdjust="spacingAndGlyphs" font-family="Liberation Sans, sans-serif" font-size="9.2" fill="#1e2530" stroke="#1e2530" stroke-width="0.22">20 km</text>
<text x="17.55" y="89.3" textLength="9.40" lengthAdjust="spacingAndGlyphs" font-family="Liberation Sans, sans-serif" font-size="9.2" fill="#1e2530" stroke="#1e2530" stroke-width="0.22">15</text>
<text x="17.85" y="146.2" textLength="8.90" lengthAdjust="spacingAndGlyphs" font-family="Liberation Sans, sans-serif" font-size="9.2" fill="#1e2530" stroke="#1e2530" stroke-width="0.22">10</text>
<text x="21.15" y="203.7" textLength="4.40" lengthAdjust="spacingAndGlyphs" font-family="Liberation Sans, sans-serif" font-size="9.2" fill="#1e2530" stroke="#1e2530" stroke-width="0.22">5</text>
<text x="20.85" y="260.8" textLength="4.50" lengthAdjust="spacingAndGlyphs" font-family="Liberation Sans, sans-serif" font-size="9.2" fill="#1e2530" stroke="#1e2530" stroke-width="0.22">0</text>
<text x="29.65" y="268.9" textLength="5.00" lengthAdjust="spacingAndGlyphs" font-family="Liberation Sans, sans-serif" font-size="9.2" fill="#1e2530" stroke="#1e2530" stroke-width="0.22">0</text>
<text x="87.65" y="268.9" textLength="4.50" lengthAdjust="spacingAndGlyphs" font-family="Liberation Sans, sans-serif" font-size="9.2" fill="#1e2530" stroke="#1e2530" stroke-width="0.22">5</text>
<text x="142.55" y="268.9" textLength="9.20" lengthAdjust="spacingAndGlyphs" font-family="Liberation Sans, sans-serif" font-size="9.2" fill="#1e2530" stroke="#1e2530" stroke-width="0.22">10</text>
<text x="200.15" y="268.9" textLength="9.20" lengthAdjust="spacingAndGlyphs" font-family="Liberation Sans, sans-serif" font-size="9.2" fill="#1e2530" stroke="#1e2530" stroke-width="0.22">15</text>
<text x="250.45" y="268.9" textLength="23.60" lengthAdjust="spacingAndGlyphs" font-family="Liberation Sans, sans-serif" font-size="9.2" fill="#1e2530" stroke="#1e2530" stroke-width="0.22">20 km</text>
<text x="266.25" y="31.0" textLength="23.30" lengthAdjust="spacingAndGlyphs" font-family="Liberation Sans, sans-serif" font-size="9.2" fill="#1e2530" stroke="#1e2530" stroke-width="0.22">10 km</text>
<text x="277.15" y="88.6" textLength="11.60" lengthAdjust="spacingAndGlyphs" font-family="Liberation Sans, sans-serif" font-size="9.2" fill="#1e2530" stroke="#1e2530" stroke-width="0.22">7.5</text>
<text x="282.95" y="146.8" textLength="4.40" lengthAdjust="spacingAndGlyphs" font-family="Liberation Sans, sans-serif" font-size="9.2" fill="#1e2530" stroke="#1e2530" stroke-width="0.22">5</text>
<text x="277.15" y="203.8" textLength="11.60" lengthAdjust="spacingAndGlyphs" font-family="Liberation Sans, sans-serif" font-size="9.2" fill="#1e2530" stroke="#1e2530" stroke-width="0.22">2.5</text>
<text x="283.25" y="260.6" textLength="4.70" lengthAdjust="spacingAndGlyphs" font-family="Liberation Sans, sans-serif" font-size="9.2" fill="#1e2530" stroke="#1e2530" stroke-width="0.22">0</text>
<text x="291.05" y="270.4" textLength="4.90" lengthAdjust="spacingAndGlyphs" font-family="Liberation Sans, sans-serif" font-size="9.2" fill="#1e2530" stroke="#1e2530" stroke-width="0.22">0</text>
<text x="344.95" y="270.4" textLength="11.60" lengthAdjust="spacingAndGlyphs" font-family="Liberation Sans, sans-serif" font-size="9.2" fill="#1e2530" stroke="#1e2530" stroke-width="0.22">2.5</text>
<text x="405.35" y="270.4" textLength="4.50" lengthAdjust="spacingAndGlyphs" font-family="Liberation Sans, sans-serif" font-size="9.2" fill="#1e2530" stroke="#1e2530" stroke-width="0.22">5</text>
<text x="459.15" y="270.4" textLength="11.20" lengthAdjust="spacingAndGlyphs" font-family="Liberation Sans, sans-serif" font-size="9.2" fill="#1e2530" stroke="#1e2530" stroke-width="0.22">7.5</text>
<text x="517.85" y="270.4" textLength="22.50" lengthAdjust="spacingAndGlyphs" font-family="Liberation Sans, sans-serif" font-size="9.2" fill="#1e2530" stroke="#1e2530" stroke-width="0.22">10 km</text>
<text x="105" y="295.8" textLength="86.4" lengthAdjust="spacingAndGlyphs" font-family="Liberation Serif, serif" font-size="15.6" fill="#111" stroke="#111" stroke-width="0.15">(a) Scenario 1</text>
<text x="364.2" y="293.6" textLength="87.2" lengthAdjust="spacingAndGlyphs" font-family="Liberation Serif, serif" font-size="15.6" fill="#111" stroke="#111" stroke-width="0.15">(b) Scenario 2</text>
</svg>
</body></html>
